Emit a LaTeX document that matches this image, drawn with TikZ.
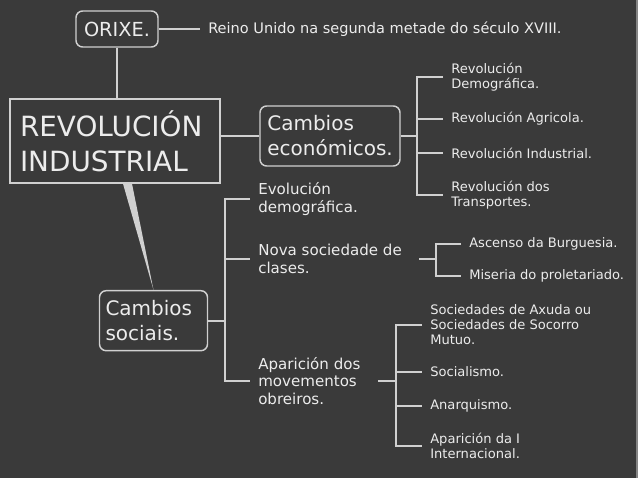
\documentclass[tikz,border=0pt]{standalone}
\usepackage{fontspec}
\setmainfont{DejaVu Sans}
\definecolor{board}{RGB}{58,58,58}
\definecolor{chalk}{RGB}{236,236,236}
\definecolor{chalkline}{RGB}{208,208,208}
\tikzset{
  boxed/.style={draw=chalkline, line width=1.1pt, rounded corners=5pt, align=left, text=chalk},
  leaf/.style={anchor=west, inner xsep=6pt, inner ysep=1pt, align=left, text=chalk, font=\fontsize{9.8}{11.2}\selectfont},
  twig/.style={leaf, font=\fontsize{11.3}{13.2}\selectfont},
  link/.style={draw=chalkline, line width=1.4pt},
}
\begin{document}
\begin{tikzpicture}[x=0.75pt,y=0.75pt,yscale=-1,xscale=1]
%Board
\fill[board] (0,0) rectangle (638,478);
\fill[black!48] (636,0) rectangle (638,478);

%Shape: Rectangle [ORIXE]
\node[boxed, font=\fontsize{14.5}{17}\selectfont, minimum width=61.5pt, minimum height=27pt, inner sep=0pt] (orixe) at (117,29) {ORIXE.};
% Text Node
\node[leaf, font=\fontsize{10.9}{12}\selectfont] (reino) at (200,29) {Reino Unido na segunda metade do século XVIII.};

%Shape: Rectangle [main]
\node[draw=chalkline, line width=1.1pt, text=chalk, align=left, text width=142.5pt, inner xsep=7.5pt, minimum height=63pt, font=\fontsize{20.9}{26}\selectfont] (rev) at (115,141) {REVOLUCIÓN\\INDUSTRIAL};

%Shape: Rectangle [economic]
\node[boxed, text width=94pt, inner xsep=5.5pt, minimum height=45pt, font=\fontsize{15}{18.75}\selectfont] (econ) at (330,136) {Cambios\\económicos.};
%Shape: Rectangle [social]
\node[boxed, text width=72pt, inner xsep=4.5pt, minimum height=45pt, font=\fontsize{15}{18.75}\selectfont] (soc) at (153.5,320.7) {Cambios\\sociais.};

% Text Node [economic branch]
\coordinate (jE) at (417,136);
\node[leaf] (demo) at (443,77) {Revolución\\Demográfica.};
\node[leaf] (agri) at (443,119) {Revolución Agricola.};
\node[leaf] (indu) at (443,153) {Revolución Industrial.};
\node[leaf] (tran) at (443,195) {Revolución dos\\Transportes.};

% Text Node [social branch]
\coordinate (jS) at (225,320.7);
\node[twig] (evol) at (250,199) {Evolución\\demográfica.};
\node[twig] (nova) at (250,259) {Nova sociedade de\\clases.};
\node[twig] (apar) at (250,381) {Aparición dos\\movementos\\obreiros.};

\coordinate (jN) at (436,259);
\node[leaf] (burg) at (461,244) {Ascenso da Burguesia.};
\node[leaf] (mise) at (461,276) {Miseria do proletariado.};

\coordinate (jA) at (396,381);
\node[leaf] (soco) at (422,325) {Sociedades de Axuda ou\\Sociedades de Socorro\\Mutuo.};
\node[leaf] (sociali) at (422,372) {Socialismo.};
\node[leaf] (anar) at (422,406) {Anarquismo.};
\node[leaf] (inte) at (422,446) {Aparición da I\\Internacional.};

%Straight Lines
\draw[link] (orixe.east) -- (reino.west);
\draw[link] (orixe.south) -- (orixe.south |- rev.north);
\draw[link] (econ.west -| rev.east) -- (econ.west);
\fill[chalkline] ([xshift=6pt]rev.south) -- ([xshift=12.75pt]rev.south) -- (soc.north) -- cycle;

\draw[link] (econ.east) -- (jE);
\draw[link] (demo.west) -| (jE) |- (tran.west);
\draw[link] (jE |- agri.west) -- (agri.west);
\draw[link] (jE |- indu.west) -- (indu.west);

\draw[link] (soc.east) -- (jS);
\draw[link] (evol.west) -| (jS) |- (apar.west);
\draw[link] (jS |- nova.west) -- (nova.west);

\draw[link] ([xshift=7pt]nova.east) -- (jN);
\draw[link] (burg.west) -| (jN) |- (mise.west);

\draw[link] ([xshift=7pt]apar.east) -- (jA);
\draw[link] (soco.west) -| (jA) |- (inte.west);
\draw[link] (jA |- sociali.west) -- (sociali.west);
\draw[link] (jA |- anar.west) -- (anar.west);
\end{tikzpicture}
\end{document}
